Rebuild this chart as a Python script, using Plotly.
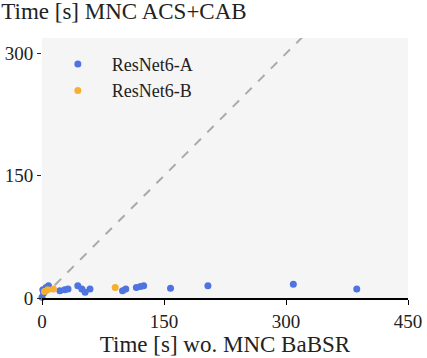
import plotly.graph_objects as go

# ResNet6-A (blue)
a_x = [1, 2, 5, 8, 22, 28, 32, 44, 49, 53, 59, 99, 103, 116, 121, 125, 158, 204, 309, 387, 0]
a_y = [10, 6, 13, 15, 9, 10, 11, 15, 11, 7, 11, 9, 11, 13, 14, 15, 12, 15, 17, 11, 1]
# ResNet6-B (orange)
b_x = [3, 7, 14, 90]
b_y = [8, 10, 11, 13]

diag = [0, 450]

FONT = "Liberation Serif"
BLUE = "#4f74e0"
ORANGE = "#f6b02f"
TXT = "#222222"

fig = go.Figure()
fig.add_trace(go.Scatter(x=diag, y=diag, mode="lines", showlegend=False,
                         line=dict(color="#aaaaaa", width=2, dash="dash"), hoverinfo="skip"))
fig.add_trace(go.Scatter(x=a_x, y=a_y, mode="markers", name="ResNet6-A",
                         marker=dict(color=BLUE, size=7), cliponaxis=False))
fig.add_trace(go.Scatter(x=b_x, y=b_y, mode="markers", name="ResNet6-B",
                         marker=dict(color=ORANGE, size=7), cliponaxis=False))

fig.update_layout(
    width=427, height=358,
    margin=dict(l=42, r=19, t=38, b=60, autoexpand=False),
    paper_bgcolor="white", plot_bgcolor="#f5f5f5",
    font=dict(family=FONT, size=19, color=TXT),
    title=dict(text="Time [s] MNC ACS+CAB", x=0.003, xanchor="left", y=0.97, yanchor="middle",
               font=dict(family=FONT, size=23, color=TXT)),
    legend=dict(x=0.005, y=0.97, xanchor="left", yanchor="top", bgcolor="rgba(0,0,0,0)",
                font=dict(family=FONT, size=18), itemwidth=58, tracegroupgap=0),
    showlegend=True,
)
fig.update_xaxes(range=[0, 450], tickvals=[0, 150, 300, 450], showgrid=False, zeroline=False,
                 showline=True, linecolor="black", linewidth=1.5, ticks="outside", ticklen=5,
                 tickcolor="black", tickwidth=1, automargin=False,
                 title=dict(text="Time [s] wo. MNC BaBSR", font=dict(family=FONT, size=23), standoff=2))
fig.update_yaxes(range=[0, 319], tickvals=[0, 150, 300], showgrid=False, zeroline=False,
                 showline=False, ticks="outside", ticklen=4, tickcolor=TXT, tickwidth=1,
                 automargin=False)

fig.write_html("out.html", config={"displayModeBar": False},
               post_script="document.body.style.margin='0px';")
